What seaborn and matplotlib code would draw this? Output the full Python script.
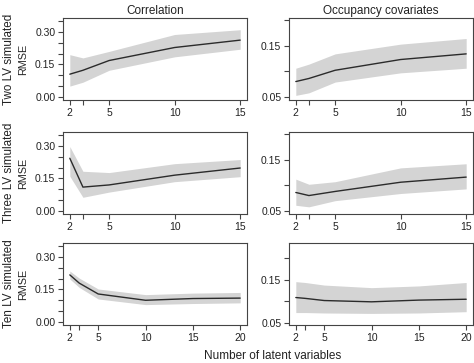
import matplotlib
matplotlib.use("Agg")
import matplotlib.pyplot as plt
import seaborn as sns
import pandas as pd

# latent variables fitted
lv_short = [2, 3, 5, 10, 15]
lv_long = [2, 3, 5, 10, 15, 20]

# Two LV simulated
two_corr_mean = [0.105, 0.123, 0.168, 0.228, 0.262]
two_corr_lo = [0.050, 0.068, 0.123, 0.185, 0.220]
two_corr_hi = [0.195, 0.180, 0.210, 0.288, 0.310]
two_occ_mean = [0.080, 0.086, 0.102, 0.123, 0.134]
two_occ_lo = [0.053, 0.058, 0.079, 0.097, 0.106]
two_occ_hi = [0.106, 0.114, 0.134, 0.153, 0.164]

# Three LV simulated
three_corr_mean = [0.243, 0.110, 0.120, 0.165, 0.198]
three_corr_lo = [0.160, 0.063, 0.087, 0.135, 0.158]
three_corr_hi = [0.297, 0.183, 0.177, 0.218, 0.237]
three_occ_mean = [0.086, 0.080, 0.088, 0.106, 0.116]
three_occ_lo = [0.061, 0.058, 0.070, 0.084, 0.093]
three_occ_hi = [0.112, 0.102, 0.107, 0.134, 0.142]

# Ten LV simulated
ten_corr_mean = [0.217, 0.179, 0.129, 0.100, 0.108, 0.110]
ten_corr_lo = [0.198, 0.159, 0.106, 0.080, 0.085, 0.088]
ten_corr_hi = [0.235, 0.202, 0.152, 0.126, 0.133, 0.136]
ten_occ_mean = [0.109, 0.107, 0.102, 0.099, 0.103, 0.105]
ten_occ_lo = [0.074, 0.074, 0.073, 0.072, 0.073, 0.076]
ten_occ_hi = [0.146, 0.144, 0.138, 0.132, 0.136, 0.144]

row_labels = ["Two LV simulated", "Three LV simulated", "Ten LV simulated"]
col_titles = ["Correlation", "Occupancy covariates"]

sns.set_style("ticks")
plt.rcParams['font.family'] = ['Liberation Sans', 'DejaVu Sans']

fig = plt.figure(figsize=(4.74, 3.63), dpi=100)

panels = [
    [(lv_short, two_corr_mean, two_corr_lo, two_corr_hi), (lv_short, two_occ_mean, two_occ_lo, two_occ_hi)],
    [(lv_short, three_corr_mean, three_corr_lo, three_corr_hi), (lv_short, three_occ_mean, three_occ_lo, three_occ_hi)],
    [(lv_long, ten_corr_mean, ten_corr_lo, ten_corr_hi), (lv_long, ten_occ_mean, ten_occ_lo, ten_occ_hi)],
]

lefts = [63 / 474, 289 / 474]
width = 184 / 474
bottoms = [1 - 100 / 363, 1 - 214 / 363, 1 - 325 / 363]
height = 82 / 363
edge = "#444444"

for r in range(3):
    for c in range(2):
        x, m, lo, hi = panels[r][c]
        ax = fig.add_axes([lefts[c], bottoms[r], width, height])
        df = pd.DataFrame({"lv": x, "rmse": m})
        ax.fill_between(x, lo, hi, color="#d4d4d4", lw=0)
        sns.lineplot(data=df, x="lv", y="rmse", ax=ax, color="#2b2b2b", lw=1.0)
        span = x[-1] - x[0]
        ax.set_xlim(x[0] - 0.04 * span, x[-1] + 0.04 * span)
        ax.set_xticks(x)
        ax.set_xticklabels(["" if v == 3 else str(v) for v in x])
        if c == 0:
            ax.set_ylim(-0.014, 0.364)
            yt = [0.0, 0.05, 0.10, 0.15, 0.20, 0.25, 0.30, 0.35]
            ax.set_yticks(yt)
            ax.set_yticklabels(["0.00", "", "", "0.15", "", "", "0.30", ""])
            ax.set_ylabel("RMSE", fontsize=7.8, labelpad=5)
        else:
            if r == 2:
                ax.set_ylim(0.045, 0.236)
            else:
                ax.set_ylim(0.044, 0.204)
            yt = [0.05, 0.10, 0.15, 0.20]
            ax.set_yticks(yt)
            ax.set_yticklabels(["0.05", "", "0.15", ""])
            ax.set_ylabel("")
        ax.set_xlabel("")
        for s in ax.spines.values():
            s.set_color(edge)
            s.set_linewidth(0.8)
        ax.tick_params(direction="out", length=3.5, width=0.8, color=edge,
                       labelsize=7.5, pad=2, labelcolor="#222222")
        if r == 0:
            ax.set_title(col_titles[c], fontsize=8.5, pad=3, color="#222222")

for r, lab in enumerate(row_labels):
    fig.text(0.018, bottoms[r] + height / 2, lab, rotation=90, ha="center",
             va="center", fontsize=8.4, color="#222222")

fig.text(0.575, 0.02, "Number of latent variables", ha="center", va="center",
         fontsize=8.5, color="#222222")

fig.savefig("out.png", dpi=100)
